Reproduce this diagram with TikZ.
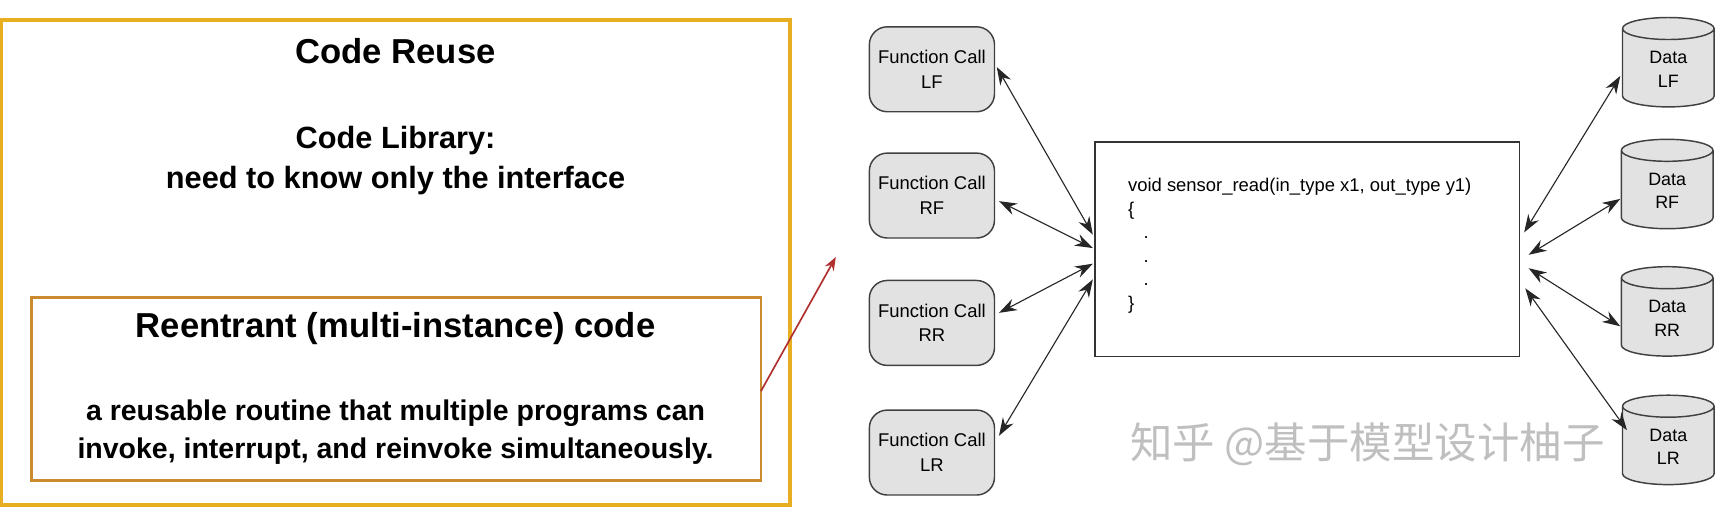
\documentclass[tikz,border=0pt]{standalone}
\usepackage{fontspec}
\setmainfont{Liberation Sans}
\newfontfamily\cjk{Noto Sans CJK SC}
\usetikzlibrary{shapes.geometric,arrows.meta}
\definecolor{gold}{HTML}{E8AE22}
\definecolor{brownbox}{HTML}{C98B2E}
\definecolor{fcfill}{HTML}{E2E2E2}
\definecolor{darkred}{HTML}{B03030}
\begin{document}
\begin{tikzpicture}[x=1pt,y=-1pt,
  head/.style={font=\bfseries\fontsize{31}{34}\selectfont},
  sub/.style={font=\bfseries\fontsize{27.5}{36}\selectfont,align=center},
  fc/.style={draw=black!75,fill=fcfill,rounded corners=16pt,minimum width=112pt,minimum height=76pt,align=center,font=\fontsize{16.5}{22}\selectfont,line width=1.3pt,inner sep=1pt},
  db/.style={cylinder,shape border rotate=90,aspect=0.55,draw=black!75,fill=fcfill,minimum width=82pt,minimum height=80pt,align=center,font=\fontsize{16}{21}\selectfont,line width=1.3pt,inner sep=1pt},
  tip/.style={Stealth[length=16pt,width=11pt]},
  conn/.style={{Stealth[length=16pt,width=11pt]}-{Stealth[length=16pt,width=11pt]},black!85,line width=1pt}]
\useasboundingbox (0,0) rectangle (1550,455);
\draw[gold,line width=3pt] (1.5,18) rectangle (707,452);
\node[head] (t1) at (354,46) {Code Reuse};
\node[sub] (t2) at (354,144) {Code Library:\\need to know only the interface};
\draw[brownbox,line width=2.5pt] (28,266) rectangle (681,430);
\node[head] (t3) at (354,294) {Reentrant (multi-instance) code};
\node[sub,font=\bfseries\fontsize{25.5}{34}\selectfont] (t4) at (354,387) {a reusable routine that multiple programs can\\invoke, interrupt, and reinvoke simultaneously.};
\coordinate (ra) at (681,350);
\coordinate (rb) at (748,230);
\draw[darkred,line width=1.5pt,-{Stealth[length=12pt,width=9pt]}] (ra) -- (rb);

\node[fc] (f1) at (834,62) {Function Call\\LF};
\node[fc] (f2) at (834,175) {Function Call\\RF};
\node[fc] (f3) at (834,289) {Function Call\\RR};
\node[fc] (f4) at (834,405) {Function Call\\LR};
\node[draw=black!80,line width=1.3pt,minimum width=380pt,minimum height=192pt] (c) at (1170,223) {};
\node[anchor=west,font=\fontsize{16.5}{21}\selectfont,align=left] (code) at (1006,220) {void sensor\_read(in\_type x1, out\_type y1)\\{\{}\\\hspace{14pt}.\\\hspace{14pt}.\\\hspace{14pt}.\\\}};
\node[db] (d1) at (1493,62) {Data\\LF};
\node[db] (d2) at (1492,171) {Data\\RF};
\node[db] (d3) at (1492,285) {Data\\RR};
\node[db] (d4) at (1493,400) {Data\\LR};

\coordinate (cl1) at (978,210); \coordinate (cl2) at (978,222);
\coordinate (cl3) at (978,236); \coordinate (cl4) at (978,250);
\coordinate (cr1) at (1364,208); \coordinate (cr2) at (1368,228);
\coordinate (cr3) at (1368,240); \coordinate (cr4) at (1365,258);
\draw[conn] (892,60) -- (cl1);
\draw[conn] (894,180) -- (cl2);
\draw[conn] (894,280) -- (cl3);
\draw[conn] (894,390) -- (cl4);
\draw[conn] (1450,68) -- (cr1);
\draw[conn] (1450,178) -- (cr2);
\draw[conn] (1450,292) -- (cr3);
\draw[conn] (1456,385) -- (cr4);
\node[font=\cjk\fontsize{38}{40}\selectfont,text=black!25,anchor=west] (wm) at (1008,398) {知乎 @基于模型设计柚子};
\end{tikzpicture}
\end{document}
